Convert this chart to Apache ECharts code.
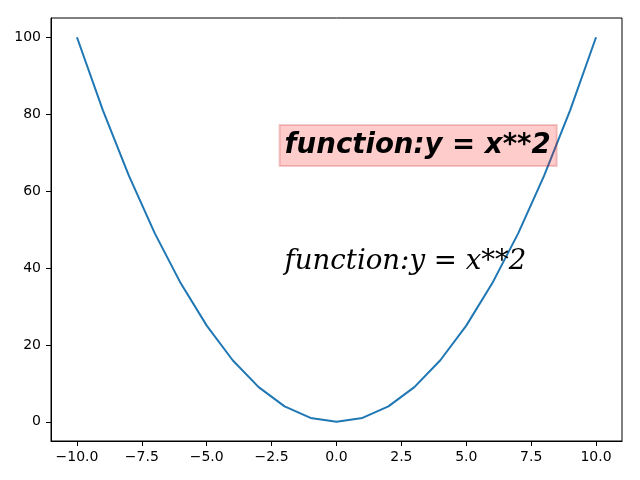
<!DOCTYPE html>
<html><head><meta charset="utf-8">
<script src="https://cdn.jsdelivr.net/npm/echarts@6/dist/echarts.min.js"></script>
<style>html,body{margin:0;padding:0;background:#fff}#c{width:640px;height:480px}</style>
</head><body><div id="c"></div>
<script>
const xValues = [-10,-9,-8,-7,-6,-5,-4,-3,-2,-1,0,1,2,3,4,5,6,7,8,9,10];
const yValues = [100,81,64,49,36,25,16,9,4,1,0,1,4,9,16,25,36,49,64,81,100];
const xTicks = [-10,-7.5,-5,-2.5,0,2.5,5,7.5,10];
const yTicks = [0,20,40,60,80,100];
const annotText = 'function:y = x**2';
const annotBoxPos = [-2, 70];
const annotSerifPos = [-2, 40];

const fmt = (v, d) => (v < 0 ? '\u2212' : '') + Math.abs(v).toFixed(d);
const chart = echarts.init(document.getElementById('c'), null, {renderer: 'canvas'});
const axisCommon = {
  axisLine: {show: true, onZero: false, lineStyle: {color: '#000', width: 1}},
  axisTick: {show: true, inside: false, length: 5, lineStyle: {color: '#000', width: 1}},
  splitLine: {show: false},
  axisLabel: {color: '#000', fontSize: 14, fontFamily: 'DejaVu Sans'}
};
chart.setOption({
  animation: false,
  grid: {left: 51, right: 18, top: 18, bottom: 39, show: true, borderColor: '#000', borderWidth: 1},
  xAxis: Object.assign({}, axisCommon, {
    type: 'value', min: -11, max: 11,
    axisTick: Object.assign({}, axisCommon.axisTick, {customValues: xTicks}),
    axisLabel: Object.assign({}, axisCommon.axisLabel, {customValues: xTicks, margin: 9, formatter: v => fmt(v, 1)})
  }),
  yAxis: Object.assign({}, axisCommon, {
    type: 'value', min: -5, max: 105,
    axisTick: Object.assign({}, axisCommon.axisTick, {customValues: yTicks}),
    axisLabel: Object.assign({}, axisCommon.axisLabel, {customValues: yTicks, margin: 10, formatter: v => fmt(v, 0)})
  }),
  series: [
    {type: 'line', data: xValues.map((x, i) => [x, yValues[i]]), showSymbol: false,
     lineStyle: {color: '#1f77b4', width: 2}, itemStyle: {color: '#1f77b4'}},
    {type: 'scatter', symbolSize: 0, data: [annotBoxPos], z: 5, itemStyle: {opacity: 1},
     label: {show: true, position: 'right', distance: 0, formatter: annotText, offset: [-5, -7],
       fontFamily: 'DejaVu Sans', fontWeight: 'bold', fontStyle: 'italic', fontSize: 27.6, color: '#000',
       textBorderWidth: 0,
       backgroundColor: 'rgba(255,0,0,0.2)', borderColor: 'rgba(180,0,0,0.2)', borderWidth: 1,
       padding: [8, 6, 5, 5]}},
    {type: 'scatter', symbolSize: 0, data: [annotSerifPos], z: 5, itemStyle: {opacity: 1},
     label: {show: true, position: 'right', distance: 0, formatter: annotText, offset: [0, -6],
       fontFamily: 'DejaVu Serif', fontStyle: 'italic', fontSize: 27.6, color: '#000', textBorderWidth: 0}}
  ]
});
</script></body></html>
